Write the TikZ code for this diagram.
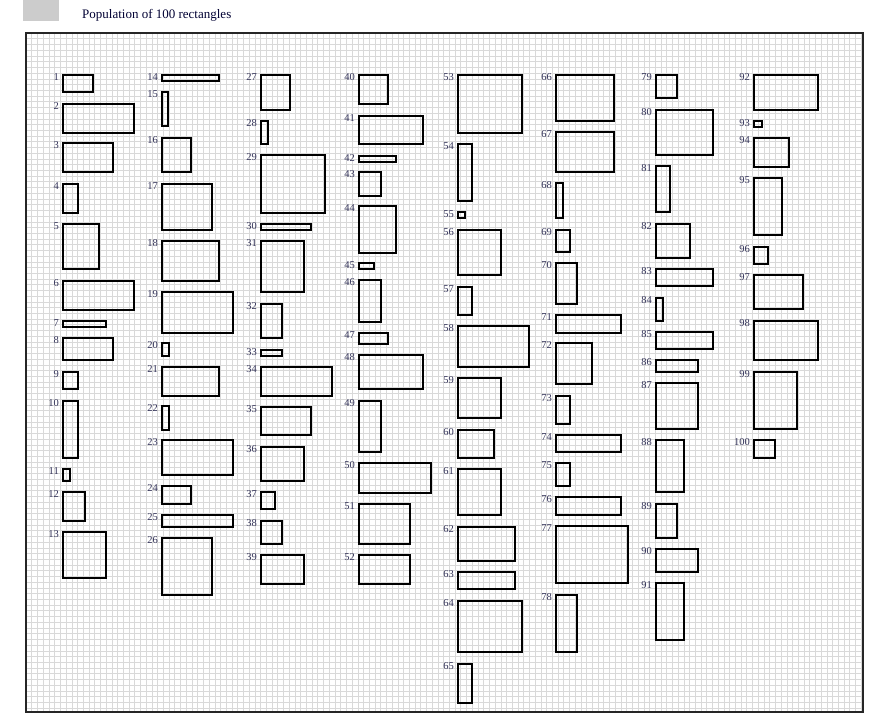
\documentclass[tikz,border=0pt]{standalone}
\usepackage{fontspec}
\setmainfont{Liberation Serif}
\begin{document}
\begin{tikzpicture}[x=1pt,y=-1pt,
  box/.style={draw=black,line width=1.3pt},
  lab/.style={anchor=north east,inner sep=0pt,font=\fontsize{10.5}{11}\selectfont,text=black!75!blue!60!gray}]
\useasboundingbox (0,0) rectangle (892,722);
\fill[white] (0,0) rectangle (892,722);
\fill[black!20] (23,0) rectangle (59,21);
\node[anchor=base west,inner sep=0pt,font=\fontsize{13}{14}\selectfont,text=black!80!blue] (title) at (82,19) {Population of 100 rectangles};
\begin{scope}
\clip (26,33) rectangle (863,712);
\foreach \i in {0,...,147} {\draw[black!15,line width=0.5pt] ({26+5.72*\i},33) -- ({26+5.72*\i},712);}
\foreach \i in {0,...,119} {\draw[black!15,line width=0.5pt] (26,{33+5.72*\i}) -- (863,{33+5.72*\i});}
\end{scope}
\draw[black!85,line width=1.6pt] (26,33) rectangle (863,712);
\foreach \n/\a/\b/\c/\d in {
1/63/75/93/92, 2/63/104/134/133, 3/63/143/113/172, 4/63/184/78/213, 5/63/224/99/269,
6/63/281/134/310, 7/63/321/106/327, 8/63/338/113/360, 9/63/372/78/389, 10/63/401/78/458,
11/63/469/70/481, 12/63/492/85/521, 13/63/532/106/578,
14/162/75/219/81, 15/162/92/168/126, 16/162/138/191/172, 17/162/184/212/230, 18/162/241/219/281,
19/162/292/233/333, 20/162/343/169/356, 21/162/367/219/396, 22/162/406/169/430, 23/162/440/233/475,
24/162/486/191/504, 25/162/515/233/527, 26/162/538/212/595,
27/261/75/290/110, 28/261/121/268/144, 29/261/155/325/213, 30/261/224/311/230, 31/261/241/304/292,
32/261/304/282/338, 33/261/350/282/356, 34/261/367/332/396, 35/261/407/311/435, 36/261/447/304/481,
37/261/492/275/509, 38/261/521/282/544, 39/261/555/304/584,
40/359/75/388/104, 41/359/116/423/144, 42/359/156/396/162, 43/359/172/381/196, 44/359/206/396/253,
45/359/263/374/269, 46/359/280/381/322, 47/359/333/388/344, 48/359/355/423/389, 49/359/401/381/452,
50/359/463/431/493, 51/359/504/410/544, 52/359/555/410/584,
53/458/75/522/133, 54/458/144/472/201, 55/458/212/465/218, 56/458/230/501/275, 57/458/287/472/315,
58/458/326/529/367, 59/458/378/501/418, 60/458/430/494/458, 61/458/469/501/515, 62/458/527/515/561,
63/458/572/515/589, 64/458/601/522/652, 65/458/664/472/703,
66/556/75/614/121, 67/556/132/614/172, 68/556/183/563/218, 69/556/230/570/252, 70/556/263/577/304,
71/556/315/621/333, 72/556/343/592/384, 73/556/396/570/424, 74/556/435/621/452, 75/556/463/570/486,
76/556/497/621/515, 77/556/526/628/583, 78/556/595/577/652,
79/656/75/677/98, 80/656/110/713/155, 81/656/166/670/212, 82/656/224/690/258, 83/656/269/713/286,
84/656/298/663/321, 85/656/332/713/349, 86/656/360/698/372, 87/656/383/698/429, 88/656/440/684/492,
89/656/504/677/538, 90/656/549/698/572, 91/656/583/684/640,
92/754/75/818/110, 93/754/121/762/127, 94/754/138/789/167, 95/754/178/782/235, 96/754/247/768/264,
97/754/275/803/309, 98/754/321/818/360, 99/754/372/797/429, 100/754/440/775/458} {
  \draw[box] (\a,\b) rectangle (\c,\d);
  \node[lab] (l\n) at ({\a-4},{\b-2}) {\n};
}
\end{tikzpicture}
\end{document}
